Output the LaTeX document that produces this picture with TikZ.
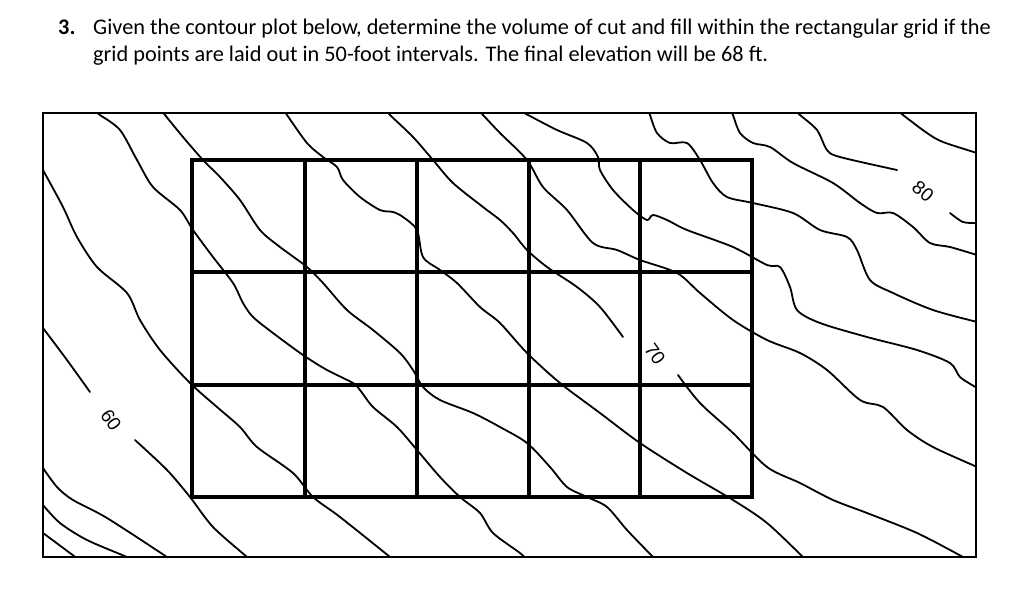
\documentclass[tikz,border=0pt]{standalone}
\usepackage{fontspec}
\setmainfont{Carlito}
\newfontfamily\lblfont{Liberation Sans}
\begin{document}
\begin{tikzpicture}[x=1pt,y=-1pt,
 contour/.style={line width=1.8pt,line join=round,line cap=round},
 gridline/.style={line width=3.3pt},
 lbl/.style={inner sep=0pt,font=\fontsize{19}{19}\selectfont\lblfont}]
\useasboundingbox (0,0) rectangle (1024,590);
\node[anchor=base west,inner sep=0,font=\fontsize{22.3}{26}\selectfont\bfseries] (num) at (58,34) {3.};
\node[anchor=base west,inner sep=0,font=\fontsize{22.3}{26}\selectfont] (l1) at (93,34) {Given the contour plot below, determine the volume of cut and fill within the rectangular grid if the};
\node[anchor=base west,inner sep=0,font=\fontsize{22.3}{26}\selectfont] (l2) at (93,61) {grid points are laid out in 50-foot intervals. The final elevation will be 68 ft.};
\begin{scope}
\clip (43,113) rectangle (976,557);
\draw[contour] plot[smooth] coordinates {(40,531)(43,533)(78,559)};
\draw[contour] plot[smooth] coordinates {(43,505)(60,523)(87,540)(127,557)(130,559)};
\draw[contour] plot[smooth] coordinates {(43,468)(57,487)(73,500)(107,518)(167,557)};
\draw[contour] plot[smooth] coordinates {(43,328)(67,360)(90,392)};
\draw[contour] plot[smooth] coordinates {(135,440)(167,470)(190,497)(213,527)(247,557)(250,560)};
\draw[contour] plot[smooth] coordinates {(41,166)(43,170)(63,207)(77,237)(97,267)(127,293)(140,320)(160,350)(190,383)(217,407)(240,427)(257,447)(293,473)(313,497)(340,517)(390,557)(393,560)};
\draw[contour] plot[smooth] coordinates {(97,113)(100,115)(120,130)(137,160)(153,187)(180,210)(193,230)(213,257)(233,283)(243,303)(253,317)(273,333)(303,355)(327,370)(353,383)(360,390)(373,407)(397,427)(417,450)(440,477)(460,497)(480,513)(493,533)(520,553)(527,560)};
\draw[contour] plot[smooth] coordinates {(163,112)(165,115)(183,137)(203,160)(220,177)(240,200)(260,230)(280,247)(307,267)(323,283)(347,310)(373,330)(400,353)(413,370)(423,387)(440,400)(473,413)(500,427)(527,443)(550,467)(567,487)(587,497)(607,507)(627,530)(653,557)(656,560)};
\draw[contour] plot[smooth] coordinates {(285,112)(287,115)(307,143)(323,157)(337,167)(343,180)(360,197)(380,210)(393,212)(403,217)(417,230)(423,257)(440,270)(457,283)(480,307)(500,323)(527,353)(560,383)(600,413)(640,443)(687,473)(733,500)(767,523)(803,557)(806,560)};
\draw[contour] plot[smooth] coordinates {(388,112)(390,115)(413,137)(433,160)(453,183)(483,207)(500,220)(513,233)(527,250)(547,267)(577,287)(600,307)(623,337)};
\draw[contour] plot[smooth] coordinates {(678,375)(700,403)(733,433)(767,467)(800,483)(833,500)(867,513)(917,533)(963,557)(967,560)};
\draw[contour] plot[smooth] coordinates {(480,112)(483,115)(500,133)(527,160)(543,187)(567,210)(593,243)(617,250)(640,260)(677,273)(700,293)(733,320)(767,340)(800,353)(827,370)(860,400)(883,407)(907,430)(933,447)(977,467)(980,469)};
\draw[contour] plot[smooth] coordinates {(524,113)(528,115)(557,130)(587,143)(598,157)(600,170)(613,190)(633,210)(647,220)(653,215)(667,220)(687,230)(733,247)(767,265)(780,267)(790,287)(797,310)(820,323)(867,337)(917,350)(950,363)(960,377)(977,388)(980,390)};
\draw[contour] plot[smooth] coordinates {(649,112)(650,115)(657,133)(670,143)(687,143)(700,160)(713,183)(727,197)(753,203)(793,213)(820,230)(847,237)(857,250)(870,280)(893,293)(933,310)(977,322)(980,323)};
\draw[contour] plot[smooth] coordinates {(732,112)(733,115)(740,133)(753,143)(770,147)(793,163)(833,183)(860,203)(877,213)(893,213)(913,227)(930,243)(950,247)(977,255)(980,256)};
\draw[contour] plot[smooth] coordinates {(797,112)(800,115)(817,130)(827,150)(840,157)(897,170)};
\draw[contour] plot[smooth] coordinates {(950,213)(963,222)(977,223)(980,223)};
\draw[contour] plot[smooth] coordinates {(900,112)(903,115)(927,133)(943,142)(977,153)(980,154)};
\end{scope}
\node[lbl,rotate=-55] (t60) at (111,420) {60};
\node[lbl,rotate=-55] (t70) at (655,354) {70};
\node[lbl,rotate=-40] (t80) at (923,191) {80};
\draw[gridline] (192,160) rectangle (752,497);
\foreach \x in {305,417,529,640} \draw[gridline] (\x,160) -- (\x,497);
\foreach \y in {272,385} \draw[gridline] (192,\y) -- (752,\y);
\draw[line width=1.8pt] (43,113) rectangle (976,557);
\end{tikzpicture}
\end{document}
